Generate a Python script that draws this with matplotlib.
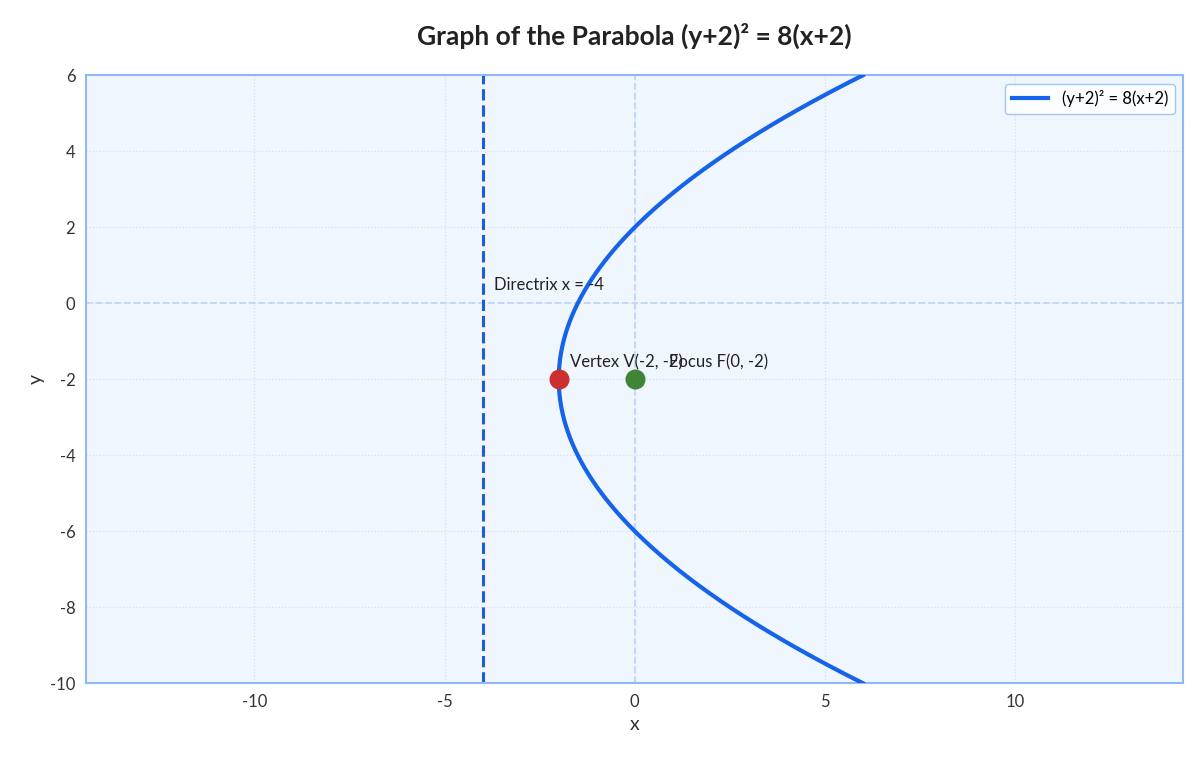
import numpy as np
import matplotlib
matplotlib.use("Agg")
import matplotlib.pyplot as plt

plt.rcParams['font.family'] = ['Lato', 'DejaVu Sans']
plt.rcParams['axes.unicode_minus'] = False

y_range = [-10, 6]
vertex = (-2, -2)
focus = (0, -2)
directrix_x = -4
p = 2

yy = np.linspace(y_range[0], y_range[1], 400)
xx = (yy - vertex[1])**2 / (4*p) + vertex[0]

fig, ax = plt.subplots(figsize=(12, 7.6), dpi=100)
fig.subplots_adjust(left=0.072, right=0.986, top=0.901, bottom=0.101)
ax.set_facecolor('#f0f6fe')
ax.plot(xx, yy, color='#1463e8', lw=3, label='(y+2)² = 8(x+2)', zorder=3)
ax.axvline(directrix_x, color='#1a5fd6', lw=2.2, ls='--', zorder=2)
ax.axhline(0, color='#bcd3f7', lw=1.3, ls='--', zorder=1)
ax.axvline(0, color='#bcd3f7', lw=1.3, ls='--', zorder=1)
ax.scatter([vertex[0]], [vertex[1]], s=180, color='#cc2f2f', zorder=4)
ax.scatter([focus[0]], [focus[1]], s=180, color='#3f8535', zorder=4)
ax.text(directrix_x + 0.3, 0.35, 'Directrix x = -4', fontsize=12, color='#222')
ax.text(vertex[0] + 0.3, vertex[1] + 0.3, 'Vertex V(-2, -2)', fontsize=12, color='#222')
ax.text(focus[0] + 0.9, focus[1] + 0.3, 'Focus F(0, -2)', fontsize=12, color='#222')
ax.set_xlim(-14.42, 14.42)
ax.set_ylim(-10, 6)
ax.set_xticks([-10, -5, 0, 5, 10])
ax.set_yticks(range(-10, 7, 2))
ax.grid(True, color='#d5e0ee', ls=':', lw=0.9)
ax.tick_params(labelsize=12, colors='#333', length=0, pad=8)
for s in ax.spines.values():
    s.set_color('#8fb8f5'); s.set_linewidth(1.5)
ax.set_xlabel('x', fontsize=14, color='#333')
ax.set_ylabel('y', fontsize=14, color='#333')
ax.set_title('Graph of the Parabola (y+2)² = 8(x+2)', fontsize=19, fontweight='bold', color='#222', pad=22)
leg = ax.legend(loc='upper right', fontsize=12, frameon=True, handlelength=2.2)
leg.get_frame().set_edgecolor('#8fb8f5')
leg.get_frame().set_facecolor('white')
fig.savefig('out.png', dpi=100)
